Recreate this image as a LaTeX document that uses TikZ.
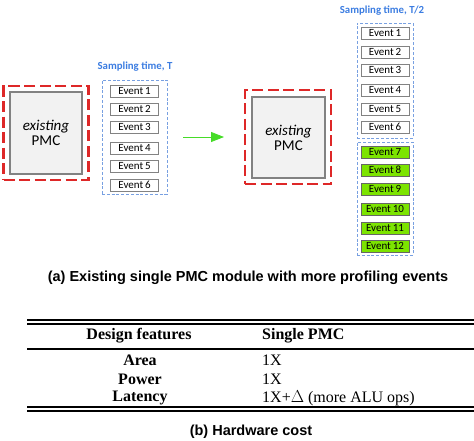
\documentclass[tikz,border=0pt]{standalone}
\usepackage{fontspec}
\setmainfont{Liberation Serif}
\newfontfamily\carl{Carlito}
\newfontfamily\arialb{Liberation Sans}
\usetikzlibrary{arrows.meta}
\definecolor{redd}{RGB}{222,40,40}
\definecolor{blued}{RGB}{120,160,225}
\definecolor{bluet}{RGB}{60,125,225}
\definecolor{evgreen}{RGB}{124,228,0}
\definecolor{arrgreen}{RGB}{70,220,40}
\definecolor{boxgray}{RGB}{130,130,130}
\tikzset{
  evbox/.style={draw=boxgray, line width=0.9pt, fill=white, minimum width=48pt, minimum height=12pt, inner sep=0pt, font=\carl\fontsize{11}{11}\selectfont},
  evgreenbox/.style={evbox, fill=evgreen, draw=black!60},
  reddash/.style={draw=redd, line width=2.6pt, dash pattern=on 11pt off 4.5pt},
  bluedash/.style={draw=blued, line width=0.8pt, dash pattern=on 3pt off 1.8pt},
  pmcbox/.style={draw=boxgray, line width=1.4pt, fill=black!5, align=center, font=\carl\fontsize{15}{15}\selectfont},
  samp/.style={text=bluet, font=\carl\bfseries\fontsize{10.8}{11}\selectfont},
  capt/.style={font=\arialb\bfseries\fontsize{14.5}{16}\selectfont},
  thead/.style={font=\bfseries\fontsize{16}{18}\selectfont, inner sep=0pt},
  tcell/.style={font=\fontsize{16}{18}\selectfont, inner sep=0pt, anchor=west},
  rule/.style={line width=1.3pt}
}
\begin{document}
\begin{tikzpicture}[x=1pt,y=-1pt]
\useasboundingbox (0,0) rectangle (474,440);
% left group
\node[reddash, minimum width=85pt, minimum height=94pt] (lred) at (46,133) {};
\node[pmcbox, minimum width=72pt, minimum height=82pt] (lpmc) at (46,133) {\textit{existing}\\PMC};
\node[bluedash, minimum width=65pt, minimum height=114pt] (lblue) at (134.5,137) {};
\node[samp] (lsamp) at (135,67) {Sampling time, T};
\foreach \i/\y in {1/91,2/109,3/127,4/148,5/166,6/185}
  \node[evbox] (l\i) at (134.5,\y) {Event\,\i};
% arrow
\coordinate (as) at (183,137);
\coordinate (ae) at (224,137);
\draw[arrgreen, line width=0.8pt, -{Triangle[length=13pt,width=10pt]}] (as) -- (ae);
% right group
\node[reddash, minimum width=86pt, minimum height=94pt] (rred) at (288,137) {};
\node[pmcbox, minimum width=73pt, minimum height=81pt] (rpmc) at (288.5,137.5) {\textit{existing}\\PMC};
\node[bluedash, minimum width=56pt, minimum height=115pt] (rblue1) at (385,80.5) {};
\node[bluedash, minimum width=56pt, minimum height=113pt] (rblue2) at (385,198.5) {};
\node[samp] (rsamp) at (382,11) {Sampling time, T/2};
\foreach \i/\y in {1/33,2/52,3/70,4/90,5/109,6/127}
  \node[evbox] (r\i) at (385,\y) {Event\,\i};
\foreach \i/\y in {7/152,8/170,9/189,10/209,11/228,12/246}
  \node[evgreenbox] (r\i) at (385,\y) {Event\,\i};
% caption a
\node[capt] (capa) at (248,278) {(a) Existing single PMC module with more profiling events};
% table
\coordinate (t1l) at (27,320); \coordinate (t1r) at (474,320);
\coordinate (t2l) at (27,324); \coordinate (t2r) at (474,324);
\coordinate (t3l) at (27,349); \coordinate (t3r) at (474,349);
\coordinate (t4l) at (27,407); \coordinate (t4r) at (474,407);
\coordinate (t5l) at (27,411); \coordinate (t5r) at (474,411);
\draw[rule] (t1l) -- (t1r);
\draw[rule] (t2l) -- (t2r);
\draw[rule] (t3l) -- (t3r);
\draw[rule] (t4l) -- (t4r);
\draw[rule] (t5l) -- (t5r);
\node[thead] (h1) at (139,336) {Design features};
\node[thead, anchor=west] (h2) at (262,336) {Single PMC};
\node[thead] (c11) at (140,360) {Area};
\node[thead] (c21) at (140,379) {Power};
\node[thead] (c31) at (140,398) {Latency};
\node[tcell] (c12) at (262,360) {1X};
\node[tcell] (c22) at (262,379) {1X};
\node[tcell] (c32) at (262,398) {1X+$\Delta$ (more ALU ops)};
% caption b
\node[capt] (capb) at (251,432) {(b) Hardware cost};
\end{tikzpicture}
\end{document}
